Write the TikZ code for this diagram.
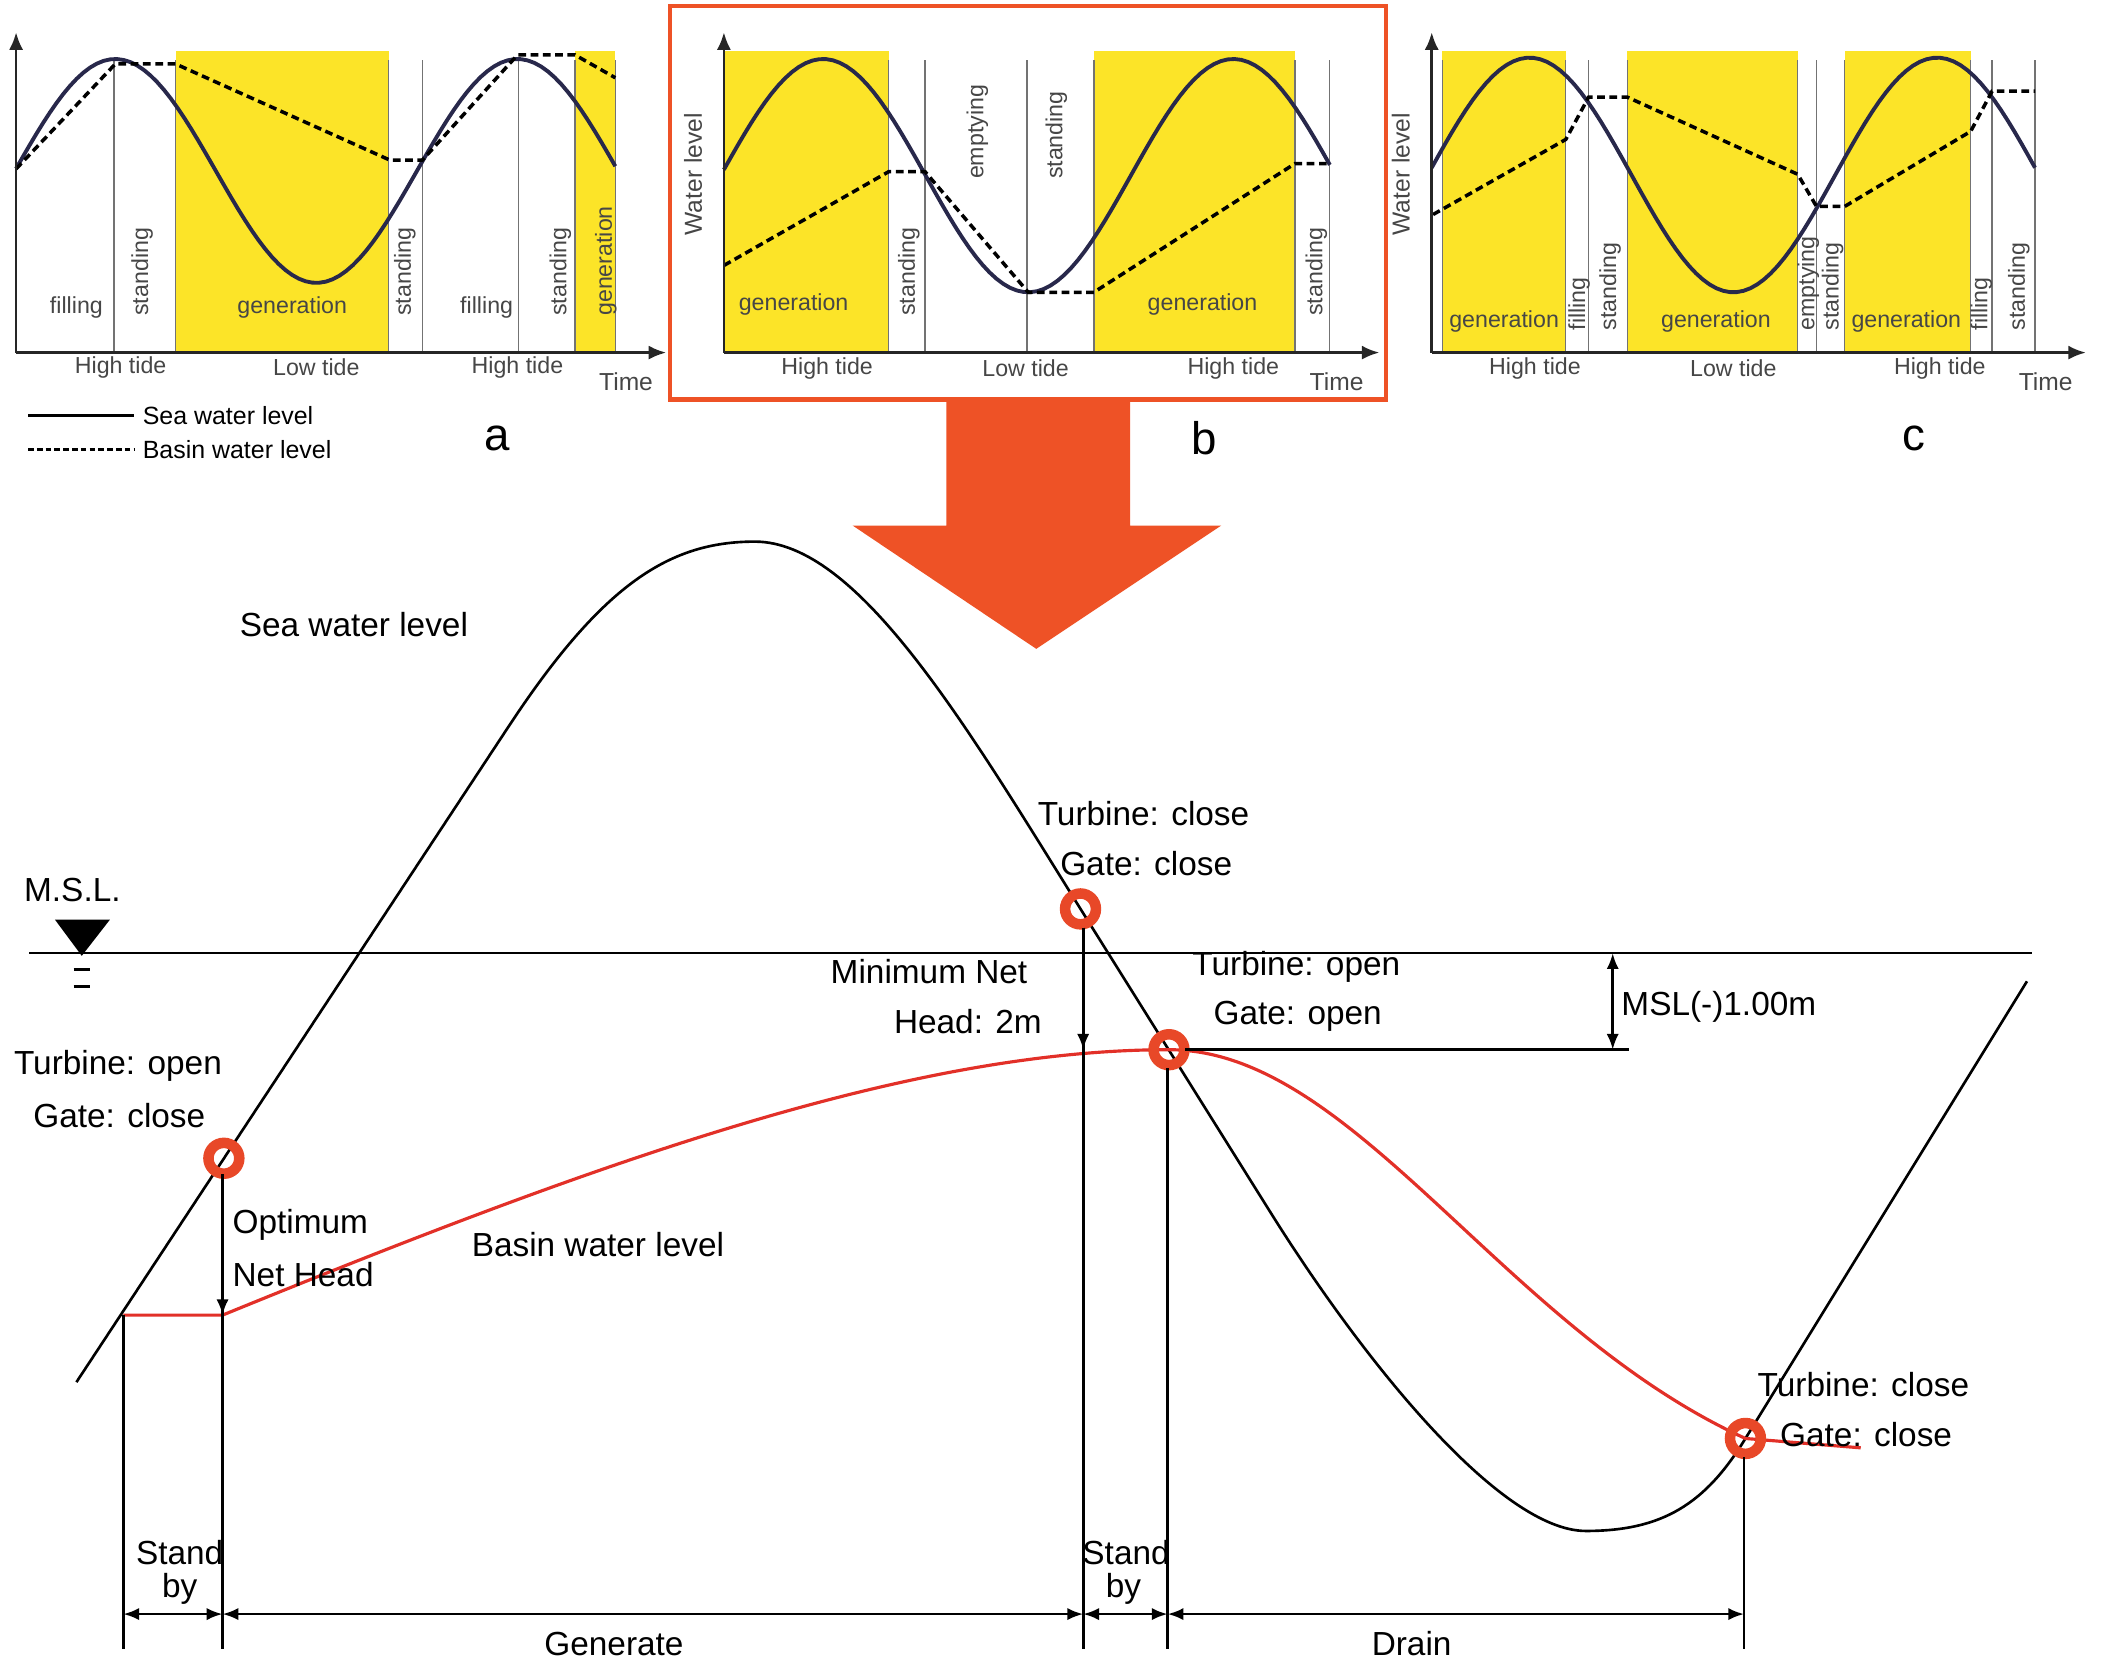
\documentclass[tikz,border=0pt]{standalone}
\usepackage{fontspec}
\setmainfont{Liberation Sans}
\usetikzlibrary{arrows.meta}

\definecolor{tideyellow}{RGB}{252,228,40}
\definecolor{tideorange}{RGB}{238,82,38}
\definecolor{ringred}{RGB}{232,72,40}
\definecolor{basinred}{RGB}{226,48,40}
\definecolor{seanavy}{RGB}{40,40,75}
\definecolor{phasegray}{RGB}{70,70,70}

\tikzset{
  panelaxis/.style={draw=black!85, line width=0.8pt, -{Latex[length=5pt,width=4pt]}},
  phaseline/.style={draw=black!55, line width=0.35pt},
  genbox/.style={fill=tideyellow},
  seacurve/.style={draw=seanavy, line width=1.1pt},
  basincurve/.style={draw=black, line width=1pt, dash pattern=on 2.2pt off 1.3pt},
  phaselabel/.style={font=\fontsize{6.6}{7}\selectfont, text=phasegray, inner sep=0pt},
  legendlabel/.style={font=\fontsize{7.1}{8}\selectfont, inner sep=0pt, anchor=west},
  panelletter/.style={font=\fontsize{13}{14}\selectfont, inner sep=0pt},
  mainline/.style={draw=black, line width=0.75pt},
  basinmain/.style={draw=basinred, line width=0.9pt},
  ring/.style={draw=ringred, line width=3pt},
  headarrow/.style={draw=black, line width=0.75pt, -{Latex[length=4.5pt,width=3.5pt]}},
  dimarrow/.style={draw=black, line width=0.75pt, {Latex[length=4.5pt,width=3.5pt]}-{Latex[length=4.5pt,width=3.5pt]}},
  mainlabel/.style={font=\fontsize{9.5}{11}\selectfont, inner sep=0pt}
}

\begin{document}
\begin{tikzpicture}[x=0.013406cm, y=-0.013406cm]
        \useasboundingbox (0,0) rectangle (1568,1244);

        % Panel a
        \fill[genbox] (131,38) rectangle (290,263);
        \fill[genbox] (429,38) rectangle (459,263);
        \foreach \px in {85,131,290,315,387,429,459}
            \draw[phaseline] (\px,45) -- (\px,263);
        \draw[seacurve] plot[domain=12:459, samples=90] (\x,{127.5-83.5*cos((\x-86)/300*360)});
        \draw[basincurve] (12,126) -- (86,47.7) -- (131,47.7) -- (291,119.5) -- (315,119.5) -- (386,41) -- (429,41) -- (459,58);
        \draw[panelaxis] (12,263) -- (12,24);
        \draw[panelaxis] (12,263) -- (497,263);
        \node[phaselabel] (aFill1) at (57,229) {filling};
        \node[phaselabel, rotate=90, anchor=west] (aStand1) at (106,236) {standing};
        \node[phaselabel] (aGen1) at (218,229) {generation};
        \node[phaselabel, rotate=90, anchor=west] (aStand2) at (302,236) {standing};
        \node[phaselabel] (aFill2) at (363,229) {filling};
        \node[phaselabel, rotate=90, anchor=west] (aStand3) at (418,236) {standing};
        \node[phaselabel, rotate=90, anchor=west] (aGen2) at (452,236) {generation};
        \node[phaselabel] (aHigh1) at (90,274) {High tide};
        \node[phaselabel] (aLow) at (236,274) {Low tide};
        \node[phaselabel] (aHigh2) at (386,274) {High tide};
        \node[phaselabel, font=\fontsize{7}{8}\selectfont] (aTime) at (467,285) {Time};
        % Legend
        \draw[seacurve, draw=black, line width=0.9pt] (21,310) -- (100,310);
        \draw[basincurve, line width=0.8pt, dash pattern=on 1.6pt off 0.9pt] (21,335) -- (100,335);
        \node[legendlabel] (legSea) at (106,310) {Sea water level};
        \node[legendlabel] (legBasin) at (106,335) {Basin water level};
        \node[panelletter] (aLetter) at (371,327) {a};

        % Panel b
        \fill[genbox] (540,38) rectangle (663,263);
        \fill[genbox] (816,38) rectangle (966,263);
        \foreach \px in {663,690,766,816,966,992}
            \draw[phaseline] (\px,45) -- (\px,263);
        \draw[seacurve] plot[domain=540:992, samples=90] (\x,{131-87*cos((\x-614)/306*360)});
        \draw[basincurve] (540,198) -- (663,128) -- (690,128) -- (767,218) -- (816,218) -- (966,122) -- (992,122);
        \draw[panelaxis] (540,263) -- (540,24);
        \draw[panelaxis] (540,263) -- (1029,263);
        \node[phaselabel, rotate=90, font=\fontsize{7}{8}\selectfont] (bWater) at (517,130) {Water level};
        \node[phaselabel] (bGen1) at (592,227) {generation};
        \node[phaselabel, rotate=90, anchor=west] (bStand1) at (678,236) {standing};
        \node[phaselabel, rotate=90, anchor=west] (bEmpty) at (729,134) {emptying};
        \node[phaselabel, rotate=90, anchor=west] (bStand2) at (788,134) {standing};
        \node[phaselabel] (bGen2) at (897,227) {generation};
        \node[phaselabel, rotate=90, anchor=west] (bStand3) at (982,236) {standing};
        \node[phaselabel] (bHigh1) at (617,275) {High tide};
        \node[phaselabel] (bLow) at (765,275) {Low tide};
        \node[phaselabel] (bHigh2) at (920,275) {High tide};
        \node[phaselabel, font=\fontsize{7}{8}\selectfont] (bTime) at (997,285) {Time};
        \node[panelletter] (bLetter) at (898,327) {b};
        \draw[tideorange, line width=1.2pt] (500,4.5) rectangle (1034,298);

        % Panel c
        \fill[genbox] (1076,38) rectangle (1168,263);
        \fill[genbox] (1214,38) rectangle (1341,263);
        \fill[genbox] (1376,38) rectangle (1470,263);
        \foreach \px in {1076,1168,1185,1214,1341,1355,1376,1470,1486,1518}
            \draw[phaseline] (\px,45) -- (\px,263);
        \draw[seacurve] plot[domain=1068:1518, samples=90] (\x,{130.5-87.5*cos((\x-1141)/304*360)});
        \draw[basincurve] (1069,160) -- (1168,104) -- (1185,72.5) -- (1214,72.5) -- (1341,130) -- (1355,154) -- (1376,154) -- (1470,98) -- (1486,68) -- (1518,68);
        \draw[panelaxis] (1068,263) -- (1068,24);
        \draw[panelaxis] (1068,263) -- (1556,263);
        \node[phaselabel, rotate=90, font=\fontsize{7}{8}\selectfont] (cWater) at (1045,130) {Water level};
        \node[phaselabel] (cGen1) at (1122,240) {generation};
        \node[phaselabel, rotate=90, anchor=west] (cFill1) at (1178,247) {filling};
        \node[phaselabel, rotate=90, anchor=west] (cStand1) at (1201,247) {standing};
        \node[phaselabel] (cGen2) at (1280,240) {generation};
        \node[phaselabel, rotate=90, anchor=west] (cEmpty) at (1349,247) {emptying};
        \node[phaselabel, rotate=90, anchor=west] (cStand2) at (1367,247) {standing};
        \node[phaselabel] (cGen3) at (1422,240) {generation};
        \node[phaselabel, rotate=90, anchor=west] (cFill2) at (1478,247) {filling};
        \node[phaselabel, rotate=90, anchor=west] (cStand3) at (1506,247) {standing};
        \node[phaselabel] (cHigh1) at (1145,275) {High tide};
        \node[phaselabel] (cLow) at (1293,275) {Low tide};
        \node[phaselabel] (cHigh2) at (1447,275) {High tide};
        \node[phaselabel, font=\fontsize{7}{8}\selectfont] (cTime) at (1526,285) {Time};
        \node[panelletter] (cLetter) at (1428,327) {c};

        % Big arrow from panel b
        \fill[tideorange] (706,298) -- (843,298) -- (843,392) -- (911,392) -- (773,484) -- (636,392) -- (706,392) -- cycle;

        % Mean sea level
        \draw[mainline] (22,711) -- (1516,711);
        \fill[black] (41,686) -- (82,686) -- (61,713) -- cycle;
        \draw[mainline, line width=1pt] (55,723) -- (67,723);
        \draw[mainline, line width=1pt] (55,736) -- (67,736);
        \node[mainlabel] (msl) at (54,664) {M.S.L.};

        % Sea water level
        \draw[mainline] (57,1031) -- (380,541) .. controls (450,435) and (500,404) .. (563,404)
            .. controls (640,404) and (720,540) .. (806,678) -- (950,908)
            .. controls (1020,1019) and (1120,1142) .. (1183,1142)
            .. controls (1240,1142) and (1272,1122) .. (1302,1073) -- (1512,732);
        \node[mainlabel] (seaLabel) at (264,466) {Sea water level};

        % Basin water level
        \draw[basinmain] (92,981) -- (166,981) .. controls (450,865) and (680,783) .. (872,783)
            .. controls (1010,783) and (1120,990) .. (1302,1073) -- (1388,1080);
        \node[mainlabel] (basinLabel) at (446,928) {Basin water level};

        % Operating points
        \coordinate (ringA) at (167,864);
        \coordinate (ringB) at (806,678);
        \coordinate (ringC) at (872,783);
        \coordinate (ringD) at (1302,1073);
        \foreach \r in {ringA,ringB,ringC,ringD}
            \draw[ring] (\r) circle (11.5);

        % Heads and phase limits
        \coordinate (optTop) at (166,876);
        \coordinate (optBot) at (166,981);
        \coordinate (minTop) at (808,692);
        \coordinate (minBot) at (808,783);
        \coordinate (mslTop) at (1203,711);
        \coordinate (mslBot) at (1203,783);
        \draw[headarrow] (optTop) -- (optBot);
        \draw[headarrow] (minTop) -- (minBot);
        \draw[dimarrow] (mslTop) -- (mslBot);
        \draw[mainline] (884,783) -- (1215,783);
        \draw[mainline] (92,981) -- (92,1230);
        \draw[mainline] (optTop) -- (166,1230);
        \draw[mainline] (minTop) -- (808,1230);
        \draw[mainline] (871,797) -- (871,1230);
        \draw[mainline] (1301,1087) -- (1301,1230);

        % Phase durations
        \coordinate (d1) at (92,1204);
        \coordinate (d2) at (166,1204);
        \coordinate (d3) at (808,1204);
        \coordinate (d4) at (871,1204);
        \coordinate (d5) at (1301,1204);
        \draw[dimarrow] (d1) -- (d2);
        \draw[dimarrow] (d2) -- (d3);
        \draw[dimarrow] (d3) -- (d4);
        \draw[dimarrow] (d4) -- (d5);

        % Labels
        \node[mainlabel] (turbA) at (88,795) {Turbine: open};
        \node[mainlabel] (gateA) at (89,832) {Gate: close};
        \node[mainlabel, anchor=west] (optA) at (173,914) {Optimum};
        \node[mainlabel, anchor=west] (optB) at (173,951) {Net Head};
        \node[mainlabel] (turbB) at (853,607) {Turbine: close};
        \node[mainlabel] (gateB) at (855,644) {Gate: close};
        \node[mainlabel] (minA) at (693,725) {Minimum Net};
        \node[mainlabel] (minB) at (722,762) {Head: 2m};
        \node[mainlabel] (turbC) at (967,721) {Turbine: open};
        \node[mainlabel] (gateC) at (968,758) {Gate: open};
        \node[mainlabel, anchor=west] (mslDrop) at (1209,751) {MSL(-)1.00m};
        \node[mainlabel] (turbD) at (1390,1033) {Turbine: close};
        \node[mainlabel] (gateD) at (1392,1070) {Gate: close};
        \node[mainlabel] (standA) at (134,1158) {Stand};
        \node[mainlabel] (byA) at (134,1185) {by};
        \node[mainlabel] (standB) at (840,1158) {Stand};
        \node[mainlabel] (byB) at (838,1185) {by};
        \node[mainlabel] (generate) at (458,1226) {Generate};
        \node[mainlabel] (drain) at (1053,1226) {Drain};
\end{tikzpicture}
\end{document}
